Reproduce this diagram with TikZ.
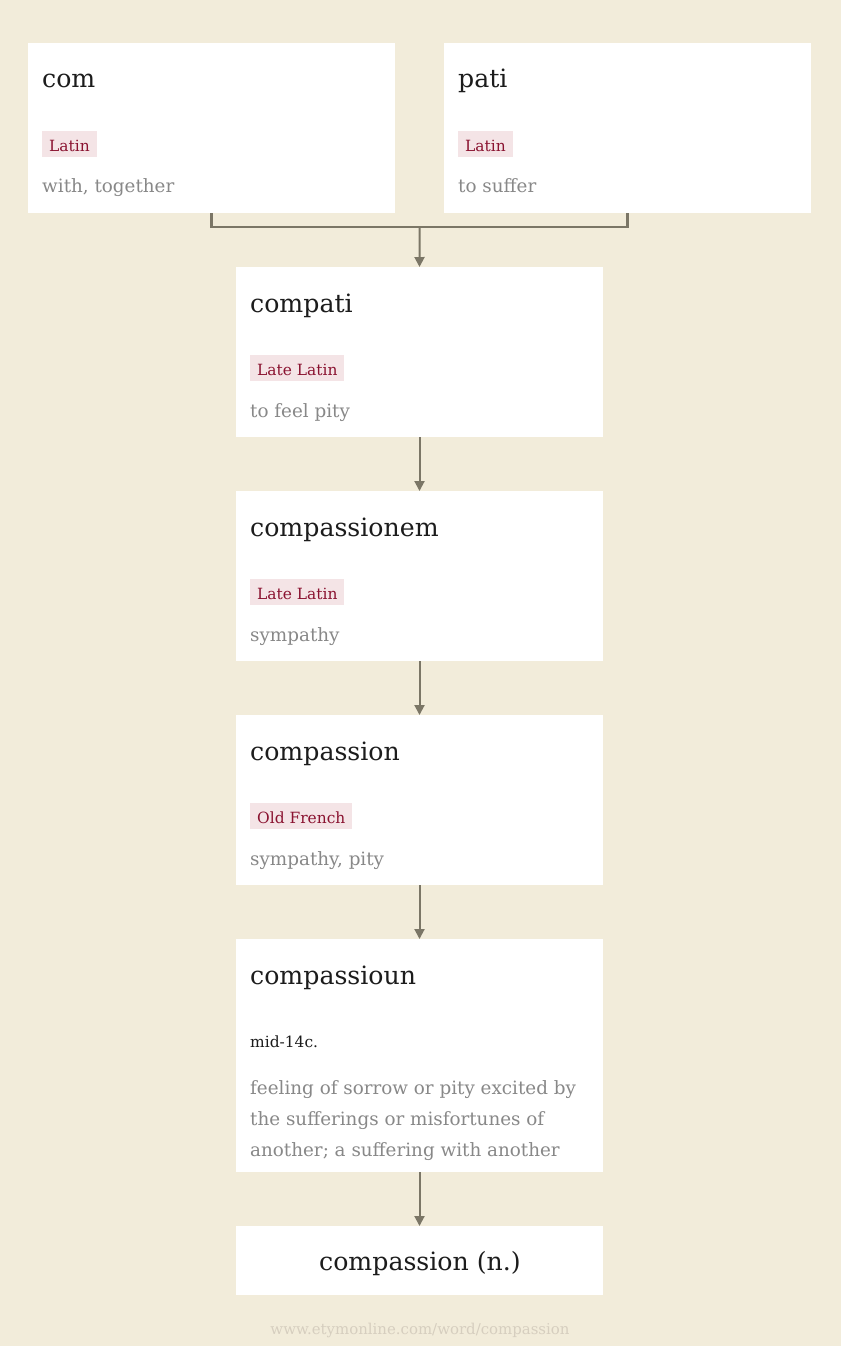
\documentclass[tikz,border=0pt]{standalone}
\usepackage{fontspec}
\setmainfont{DejaVu Serif}
\usetikzlibrary{arrows.meta}
\definecolor{bgc}{HTML}{F2ECDA}
\definecolor{linec}{HTML}{7B7666}
\definecolor{tagfill}{HTML}{F4E4E6}
\definecolor{tagtext}{HTML}{8A1230}
\definecolor{glossc}{HTML}{888888}
\definecolor{titlec}{HTML}{1C1C1C}
\definecolor{footc}{HTML}{D6CEBF}
\begin{document}
\begin{tikzpicture}[x=1bp,y=-1bp,
  card/.style={fill=white, draw=none, minimum width=367bp, minimum height=170bp, anchor=north west, inner sep=0pt, outer sep=0pt},
  titletxt/.style={anchor=base west, inner sep=0pt, text=titlec, font=\fontsize{25.3}{30}\selectfont},
  tagbox/.style={anchor=north west, fill=tagfill, text=tagtext, inner xsep=7bp, inner ysep=5bp, text height=15bp, text depth=1bp, font=\fontsize{15.5}{18}\selectfont},
  glosstxt/.style={anchor=base west, inner sep=0pt, text=glossc, font=\fontsize{18.4}{31}\selectfont, align=left},
  datetxt/.style={anchor=base west, inner sep=0pt, text=titlec, font=\fontsize{15.5}{18}\selectfont},
  conn/.style={draw=linec, line width=2.2bp},
  arr/.style={draw=linec, line width=2bp, -{Triangle[length=10bp,width=10bp]}}
]
\useasboundingbox (0,0) rectangle (840,1346);
\fill[bgc] (-2,-2) rectangle (842,1348);

% cards
\node[card] (com) at (28,43) {};
\node[card] (pati) at (444,43) {};
\node[card] (compati) at (236,267) {};
\node[card] (compassionem) at (236,491) {};
\node[card] (compassion) at (236,715) {};
\node[card, minimum height=233bp] (compassioun) at (236,939) {};
\node[card, minimum height=69bp] (final) at (236,1226) {};

% com
\node[titletxt] (comT) at (42,88) {com};
\node[tagbox] (comL) at (42,131) {Latin};
\node[glosstxt] (comG) at (42,193) {with, together};
% pati
\node[titletxt] (patiT) at (458,88) {pati};
\node[tagbox] (patiL) at (458,131) {Latin};
\node[glosstxt] (patiG) at (458,193) {to suffer};
% compati
\node[titletxt] (compatiT) at (250,312) {compati};
\node[tagbox] (compatiL) at (250,355) {Late Latin};
\node[glosstxt] (compatiG) at (250,417) {to feel pity};
% compassionem
\node[titletxt] (compassionemT) at (250,536) {compassionem};
\node[tagbox] (compassionemL) at (250,579) {Late Latin};
\node[glosstxt] (compassionemG) at (250,641) {sympathy};
% compassion
\node[titletxt] (compassionT) at (250,760) {compassion};
\node[tagbox] (compassionL) at (250,803) {Old French};
\node[glosstxt] (compassionG) at (250,865) {sympathy, pity};
% compassioun
\node[titletxt] (compassiounT) at (250,984) {compassioun};
\node[datetxt] (compassiounD) at (250,1047) {mid-14c.};
\node[glosstxt] (compassiounG) at (250,1156) {feeling of sorrow or pity excited by\\the sufferings or misfortunes of\\another; a suffering with another};
% final
\node[titletxt, anchor=base] (finalT) at (420,1270) {compassion (n.)};

% footer
\node[anchor=base, inner sep=0pt, text=footc, font=\fontsize{15}{18}\selectfont] (foot) at (420,1334) {www.etymonline.com/word/compassion};

% connectors
\coordinate (join) at (419.5,227);
\draw[conn] (com.south) -- ++(0,14) -| (pati.south);
\draw[arr] (join) -- (compati.north);
\draw[arr] (compati.south) -- (compassionem.north);
\draw[arr] (compassionem.south) -- (compassion.north);
\draw[arr] (compassion.south) -- (compassioun.north);
\draw[arr] (compassioun.south) -- (final.north);
\end{tikzpicture}
\end{document}
